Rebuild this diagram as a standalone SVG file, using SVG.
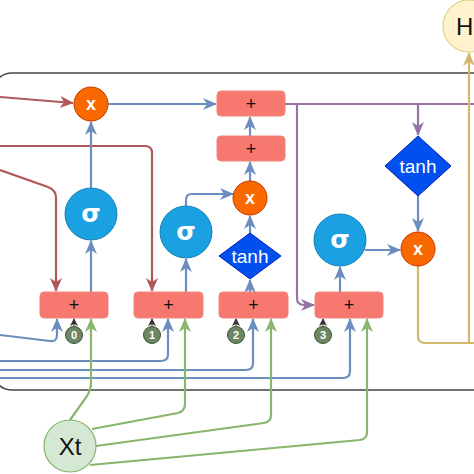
<svg xmlns="http://www.w3.org/2000/svg" width="474" height="474" viewBox="0 0 474 474">
<style>
.box{fill:#f6786e;stroke:#f0857c;stroke-width:1}
.plus{font-family:"Liberation Sans",Arial,sans-serif;font-size:18px;fill:#111;text-anchor:middle}
.mul circle{fill:#fa6800;stroke:#c73500;stroke-width:1}
.mul text{font-family:"Liberation Sans",Arial,sans-serif;font-size:18px;font-weight:bold;fill:#fff;text-anchor:middle}
.sig circle{fill:#1ba1e2;stroke:#1a7fb8;stroke-width:1}
.sig text{font-family:"DejaVu Sans","Liberation Sans",sans-serif;font-size:25px;font-weight:bold;fill:#fff;text-anchor:middle}
.th polygon{fill:#0050ef;stroke:#001dbc;stroke-width:1}
.th text{font-family:"Liberation Sans",Arial,sans-serif;font-size:19px;fill:#fff;text-anchor:middle}
.num circle{fill:#6d8764;stroke:#3a5431;stroke-width:1}
.num text{font-family:"Liberation Sans",Arial,sans-serif;font-size:11px;font-weight:bold;fill:#fff;text-anchor:middle}
.big{font-family:"Liberation Sans",Arial,sans-serif;font-size:24px;fill:#111;text-anchor:middle}
.c{fill:none;stroke-width:2.2;stroke-linejoin:round}
.red{stroke:#b0585a;marker-end:url(#ar)}
.blue{stroke:#6c8ebf;marker-end:url(#ab)}
.pur{stroke:#9673a6}
.gold{stroke:#d3b86a}
.grn{stroke:#8ab56e;marker-end:url(#ag)}
</style>
<defs>
<marker id="ar" markerUnits="userSpaceOnUse" markerWidth="14" markerHeight="12" refX="13" refY="6" orient="auto"><path d="M0,0 L14,6 L0,12 L4,6 z" fill="#b0585a"/></marker>
<marker id="ab" markerUnits="userSpaceOnUse" markerWidth="14" markerHeight="12" refX="13" refY="6" orient="auto"><path d="M0,0 L14,6 L0,12 L4,6 z" fill="#6c8ebf"/></marker>
<marker id="ap" markerUnits="userSpaceOnUse" markerWidth="14" markerHeight="12" refX="13" refY="6" orient="auto"><path d="M0,0 L14,6 L0,12 L4,6 z" fill="#9673a6"/></marker>
<marker id="ay" markerUnits="userSpaceOnUse" markerWidth="14" markerHeight="12" refX="13" refY="6" orient="auto"><path d="M0,0 L14,6 L0,12 L4,6 z" fill="#d3b86a"/></marker>
<marker id="ag" markerUnits="userSpaceOnUse" markerWidth="14" markerHeight="12" refX="13" refY="6" orient="auto"><path d="M0,0 L14,6 L0,12 L4,6 z" fill="#8ab56e"/></marker>
<marker id="ak" markerUnits="userSpaceOnUse" markerWidth="8" markerHeight="8" refX="7" refY="4" orient="auto"><path d="M0,0 L8,4 L0,8 L2,4 z" fill="#333"/></marker>
</defs>

<rect id="cell" x="-8" y="73" width="500" height="317" rx="20" fill="none" stroke="#444" stroke-width="1.5"/>

<g id="connectors">
<path class="c red" d="M0,97 L73,103"/>
<path class="c red" d="M0,146 H145 Q152,146 152,153 V291"/>
<path class="c red" d="M0,170 L48,187 Q56,190 56,198 V291"/>

<path class="c blue" d="M108,104 H216"/>
<path class="c blue" d="M91,188 V122"/>
<path class="c blue" d="M91,292 V241"/>
<path class="c blue" d="M186,292 V259"/>
<path class="c blue" d="M186,206 V200 Q186,194 192,194 H233"/>
<path class="c blue" d="M250,292 V280"/>
<path class="c blue" d="M250,233 V216"/>
<path class="c blue" d="M250,181 V162"/>
<path class="c blue" d="M250,136 V117"/>
<path class="c blue" d="M340,292 V267"/>
<path class="c blue" d="M365,250 H400"/>
<path class="c blue" d="M418,196 V231"/>

<path class="c pur" d="M285,104 H480"/>
<path class="c pur" d="M297,104 V298 Q297,305 304,305 H314" marker-end="url(#ap)"/>
<path class="c pur" d="M418,104 V135" marker-end="url(#ap)"/>

<path class="c gold" d="M418,266 V336 Q418,343 425,343 H480"/>
<path class="c gold" d="M469,343 V53" marker-end="url(#ay)"/>

<path class="c blue" d="M0,335 L50,341 Q57,342 57,335 V319"/>
<path class="c blue" d="M0,361 H161 Q168,361 168,354 V319"/>
<path class="c blue" d="M0,370 H246 Q253,370 253,363 V319"/>
<path class="c blue" d="M0,378 H343 Q350,378 350,371 V319"/>

<path class="c grn" d="M70,420 L87,396 Q91,390 91,382 V319"/>
<path class="c grn" d="M92,429 L178,413 Q185,411 185,404 V319"/>
<path class="c grn" d="M96,446 L264,423 Q271,422 271,415 V319"/>
<path class="c grn" d="M90,465 L360,440 Q367,439 367,432 V319"/>

<path d="M74,326 V319" stroke="#333" stroke-width="1" marker-end="url(#ak)"/>
<path d="M152,326 V319" stroke="#333" stroke-width="1" marker-end="url(#ak)"/>
<path d="M236,326 V319" stroke="#333" stroke-width="1" marker-end="url(#ak)"/>
<path d="M323,326 V319" stroke="#333" stroke-width="1" marker-end="url(#ak)"/>
</g>

<g id="add0"><rect class="box" x="40" y="292" width="68" height="26" rx="4"/><text class="plus" x="74" y="311">+</text></g>
<g id="add1"><rect class="box" x="134" y="292" width="69" height="26" rx="4"/><text class="plus" x="168.5" y="311">+</text></g>
<g id="add2"><rect class="box" x="219" y="292" width="69" height="26" rx="4"/><text class="plus" x="253.5" y="311">+</text></g>
<g id="add3"><rect class="box" x="315" y="292" width="68" height="26" rx="4"/><text class="plus" x="349" y="311">+</text></g>
<g id="addTop"><rect class="box" x="217" y="91" width="68" height="25" rx="4"/><text class="plus" x="251" y="110">+</text></g>
<g id="addMid"><rect class="box" x="217" y="136" width="68" height="25" rx="4"/><text class="plus" x="251" y="155">+</text></g>

<g id="mulTop" class="mul"><circle cx="91" cy="104" r="17"/><text x="91" y="110">x</text></g>
<g id="mulMid" class="mul"><circle cx="250" cy="198" r="17"/><text x="250" y="204">x</text></g>
<g id="mulRight" class="mul"><circle cx="418" cy="249" r="17"/><text x="418" y="255">x</text></g>

<g id="sig0" class="sig"><circle cx="91" cy="214" r="26"/><text x="91" y="222">σ</text></g>
<g id="sig1" class="sig"><circle cx="186" cy="232" r="26"/><text x="186" y="240">σ</text></g>
<g id="sig3" class="sig"><circle cx="340" cy="240" r="26"/><text x="340" y="248">σ</text></g>

<g id="tanhMid" class="th"><polygon points="250,233 281,256 250,279 219,256"/><text x="250" y="263">tanh</text></g>
<g id="tanhRight" class="th"><polygon points="418,136 451,166 418,196 385,166"/><text x="418" y="173">tanh</text></g>

<g id="n0" class="num"><circle cx="74" cy="335" r="8.5"/><text x="74" y="339">0</text></g>
<g id="n1" class="num"><circle cx="152" cy="335" r="8.5"/><text x="152" y="339">1</text></g>
<g id="n2" class="num"><circle cx="236" cy="335" r="8.5"/><text x="236" y="339">2</text></g>
<g id="n3" class="num"><circle cx="323" cy="335" r="8.5"/><text x="323" y="339">3</text></g>

<g id="Xt"><circle cx="70" cy="446" r="26" fill="#d5e8d4" stroke="#82b366" stroke-width="1.2"/><text class="big" x="70" y="455">Xt</text></g>
<g id="Ht"><circle cx="469" cy="26" r="26" fill="#fff2cc" stroke="#e2cf8c" stroke-width="1.2"/><text class="big" x="456" y="35" text-anchor="start" style="text-anchor:start">H</text></g>
</svg>
